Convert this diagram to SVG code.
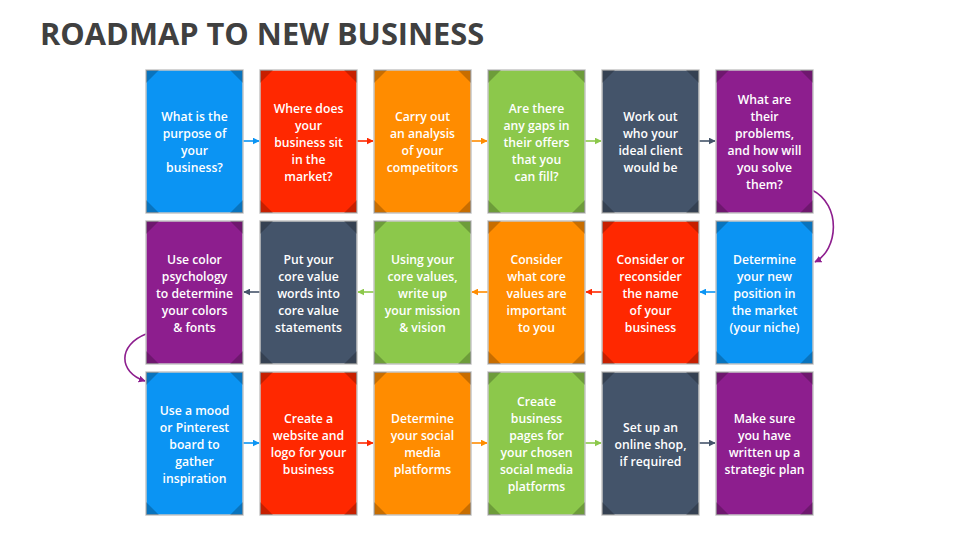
<svg xmlns="http://www.w3.org/2000/svg" width="960" height="540" viewBox="0 0 960 540">
<style>
.card{stroke:#c6c6c6;stroke-width:1.5}
.blue{fill:#0b94f3}.red{fill:#ff2800}.orange{fill:#ff8c00}.green{fill:#8cc84b}.slate{fill:#44546a}.purple{fill:#8d1e8e}
.tri{fill:#000;fill-opacity:0.22}
.t{font-family:"Open Sans","Liberation Sans",sans-serif;font-size:12.2px;font-weight:600;fill:#fff;text-anchor:middle}
.title{font-family:"Open Sans","Liberation Sans",sans-serif;font-size:30.8px;font-weight:700;fill:#404040}
.c{fill:none;stroke-width:1.6}
</style>
<defs>
<marker id="mb" viewBox="0 0 10 10" refX="9" refY="5" markerWidth="7" markerHeight="7" markerUnits="userSpaceOnUse" orient="auto"><path d="M0,0L10,5L0,10z" fill="#0b94f3"/></marker>
<marker id="mr" viewBox="0 0 10 10" refX="9" refY="5" markerWidth="7" markerHeight="7" markerUnits="userSpaceOnUse" orient="auto"><path d="M0,0L10,5L0,10z" fill="#ff2800"/></marker>
<marker id="mo" viewBox="0 0 10 10" refX="9" refY="5" markerWidth="7" markerHeight="7" markerUnits="userSpaceOnUse" orient="auto"><path d="M0,0L10,5L0,10z" fill="#ff8c00"/></marker>
<marker id="mg" viewBox="0 0 10 10" refX="9" refY="5" markerWidth="7" markerHeight="7" markerUnits="userSpaceOnUse" orient="auto"><path d="M0,0L10,5L0,10z" fill="#8cc84b"/></marker>
<marker id="ms" viewBox="0 0 10 10" refX="9" refY="5" markerWidth="7" markerHeight="7" markerUnits="userSpaceOnUse" orient="auto"><path d="M0,0L10,5L0,10z" fill="#44546a"/></marker>
<marker id="mp" viewBox="0 0 10 10" refX="9" refY="5" markerWidth="7" markerHeight="7" markerUnits="userSpaceOnUse" orient="auto"><path d="M0,0L10,5L0,10z" fill="#8d1e8e"/></marker>
<g id="corners"><path class="tri" d="M0,0h13L0,13z"/><path class="tri" d="M97,0h-13L97,13z"/><path class="tri" d="M0,143v-13L13,143z"/><path class="tri" d="M97,143v-13L84,143z"/></g>
</defs>
<rect width="960" height="540" fill="#fff"/>
<text class="title" x="40" y="45">ROADMAP TO NEW BUSINESS</text>

<g id="connectors">
<path class="c" stroke="#0b94f3" marker-end="url(#mb)" d="M243,141H259"/>
<path class="c" stroke="#ff2800" marker-end="url(#mr)" d="M357,141H373"/>
<path class="c" stroke="#ff8c00" marker-end="url(#mo)" d="M471,141H487"/>
<path class="c" stroke="#8cc84b" marker-end="url(#mg)" d="M585,141H601"/>
<path class="c" stroke="#44546a" marker-end="url(#ms)" d="M699,141H715"/>
<path class="c" stroke="#8d1e8e" marker-end="url(#mp)" d="M812,190C842,205 838,250 815,262"/>
<path class="c" stroke="#0b94f3" marker-end="url(#mb)" d="M716,292H700"/>
<path class="c" stroke="#ff2800" marker-end="url(#mr)" d="M602,292H586"/>
<path class="c" stroke="#ff8c00" marker-end="url(#mo)" d="M488,292H472"/>
<path class="c" stroke="#8cc84b" marker-end="url(#mg)" d="M374,292H358"/>
<path class="c" stroke="#44546a" marker-end="url(#ms)" d="M260,292H244"/>
<path class="c" stroke="#8d1e8e" marker-end="url(#mp)" d="M146,334C118,345 118,372 145,381"/>
<path class="c" stroke="#0b94f3" marker-end="url(#mb)" d="M243,443H259"/>
<path class="c" stroke="#ff2800" marker-end="url(#mr)" d="M357,443H373"/>
<path class="c" stroke="#ff8c00" marker-end="url(#mo)" d="M471,443H487"/>
<path class="c" stroke="#8cc84b" marker-end="url(#mg)" d="M585,443H601"/>
<path class="c" stroke="#44546a" marker-end="url(#ms)" d="M699,443H715"/>
</g>

<g id="n1" transform="translate(146,70)"><rect class="card blue" width="97" height="143"/><use href="#corners"/>
<text class="t"><tspan x="48.5" y="51">What is the</tspan><tspan x="48.5" y="68">purpose of</tspan><tspan x="48.5" y="85">your</tspan><tspan x="48.5" y="102">business?</tspan></text></g>
<g id="n2" transform="translate(260,70)"><rect class="card red" width="97" height="143"/><use href="#corners"/>
<text class="t"><tspan x="48.5" y="43">Where does</tspan><tspan x="48.5" y="60">your</tspan><tspan x="48.5" y="77">business sit</tspan><tspan x="48.5" y="94">in the</tspan><tspan x="48.5" y="111">market?</tspan></text></g>
<g id="n3" transform="translate(374,70)"><rect class="card orange" width="97" height="143"/><use href="#corners"/>
<text class="t"><tspan x="48.5" y="51">Carry out</tspan><tspan x="48.5" y="68">an analysis</tspan><tspan x="48.5" y="85">of your</tspan><tspan x="48.5" y="102">competitors</tspan></text></g>
<g id="n4" transform="translate(488,70)"><rect class="card green" width="97" height="143"/><use href="#corners"/>
<text class="t"><tspan x="48.5" y="43">Are there</tspan><tspan x="48.5" y="60">any gaps in</tspan><tspan x="48.5" y="77">their offers</tspan><tspan x="48.5" y="94">that you</tspan><tspan x="48.5" y="111">can fill?</tspan></text></g>
<g id="n5" transform="translate(602,70)"><rect class="card slate" width="97" height="143"/><use href="#corners"/>
<text class="t"><tspan x="48.5" y="51">Work out</tspan><tspan x="48.5" y="68">who your</tspan><tspan x="48.5" y="85">ideal client</tspan><tspan x="48.5" y="102">would be</tspan></text></g>
<g id="n6" transform="translate(716,70)"><rect class="card purple" width="97" height="143"/><use href="#corners"/>
<text class="t"><tspan x="48.5" y="34">What are</tspan><tspan x="48.5" y="51">their</tspan><tspan x="48.5" y="68">problems,</tspan><tspan x="48.5" y="85">and how will</tspan><tspan x="48.5" y="102">you solve</tspan><tspan x="48.5" y="119">them?</tspan></text></g>

<g id="n7" transform="translate(716,221)"><rect class="card blue" width="97" height="143"/><use href="#corners"/>
<text class="t"><tspan x="48.5" y="43">Determine</tspan><tspan x="48.5" y="60">your new</tspan><tspan x="48.5" y="77">position in</tspan><tspan x="48.5" y="94">the market</tspan><tspan x="48.5" y="111">(your niche)</tspan></text></g>
<g id="n8" transform="translate(602,221)"><rect class="card red" width="97" height="143"/><use href="#corners"/>
<text class="t"><tspan x="48.5" y="43">Consider or</tspan><tspan x="48.5" y="60">reconsider</tspan><tspan x="48.5" y="77">the name</tspan><tspan x="48.5" y="94">of your</tspan><tspan x="48.5" y="111">business</tspan></text></g>
<g id="n9" transform="translate(488,221)"><rect class="card orange" width="97" height="143"/><use href="#corners"/>
<text class="t"><tspan x="48.5" y="43">Consider</tspan><tspan x="48.5" y="60">what core</tspan><tspan x="48.5" y="77">values are</tspan><tspan x="48.5" y="94">important</tspan><tspan x="48.5" y="111">to you</tspan></text></g>
<g id="n10" transform="translate(374,221)"><rect class="card green" width="97" height="143"/><use href="#corners"/>
<text class="t"><tspan x="48.5" y="43">Using your</tspan><tspan x="48.5" y="60">core values,</tspan><tspan x="48.5" y="77">write up</tspan><tspan x="48.5" y="94">your mission</tspan><tspan x="48.5" y="111">&amp; vision</tspan></text></g>
<g id="n11" transform="translate(260,221)"><rect class="card slate" width="97" height="143"/><use href="#corners"/>
<text class="t"><tspan x="48.5" y="43">Put your</tspan><tspan x="48.5" y="60">core value</tspan><tspan x="48.5" y="77">words into</tspan><tspan x="48.5" y="94">core value</tspan><tspan x="48.5" y="111">statements</tspan></text></g>
<g id="n12" transform="translate(146,221)"><rect class="card purple" width="97" height="143"/><use href="#corners"/>
<text class="t"><tspan x="48.5" y="43">Use color</tspan><tspan x="48.5" y="60">psychology</tspan><tspan x="48.5" y="77">to determine</tspan><tspan x="48.5" y="94">your colors</tspan><tspan x="48.5" y="111">&amp; fonts</tspan></text></g>

<g id="n13" transform="translate(146,372)"><rect class="card blue" width="97" height="143"/><use href="#corners"/>
<text class="t"><tspan x="48.5" y="43">Use a mood</tspan><tspan x="48.5" y="60">or Pinterest</tspan><tspan x="48.5" y="77">board to</tspan><tspan x="48.5" y="94">gather</tspan><tspan x="48.5" y="111">inspiration</tspan></text></g>
<g id="n14" transform="translate(260,372)"><rect class="card red" width="97" height="143"/><use href="#corners"/>
<text class="t"><tspan x="48.5" y="51">Create a</tspan><tspan x="48.5" y="68">website and</tspan><tspan x="48.5" y="85">logo for your</tspan><tspan x="48.5" y="102">business</tspan></text></g>
<g id="n15" transform="translate(374,372)"><rect class="card orange" width="97" height="143"/><use href="#corners"/>
<text class="t"><tspan x="48.5" y="51">Determine</tspan><tspan x="48.5" y="68">your social</tspan><tspan x="48.5" y="85">media</tspan><tspan x="48.5" y="102">platforms</tspan></text></g>
<g id="n16" transform="translate(488,372)"><rect class="card green" width="97" height="143"/><use href="#corners"/>
<text class="t"><tspan x="48.5" y="34">Create</tspan><tspan x="48.5" y="51">business</tspan><tspan x="48.5" y="68">pages for</tspan><tspan x="48.5" y="85">your chosen</tspan><tspan x="48.5" y="102">social media</tspan><tspan x="48.5" y="119">platforms</tspan></text></g>
<g id="n17" transform="translate(602,372)"><rect class="card slate" width="97" height="143"/><use href="#corners"/>
<text class="t"><tspan x="48.5" y="60">Set up an</tspan><tspan x="48.5" y="77">online shop,</tspan><tspan x="48.5" y="94">if required</tspan></text></g>
<g id="n18" transform="translate(716,372)"><rect class="card purple" width="97" height="143"/><use href="#corners"/>
<text class="t"><tspan x="48.5" y="51">Make sure</tspan><tspan x="48.5" y="68">you have</tspan><tspan x="48.5" y="85">written up a</tspan><tspan x="48.5" y="102">strategic plan</tspan></text></g>
</svg>
